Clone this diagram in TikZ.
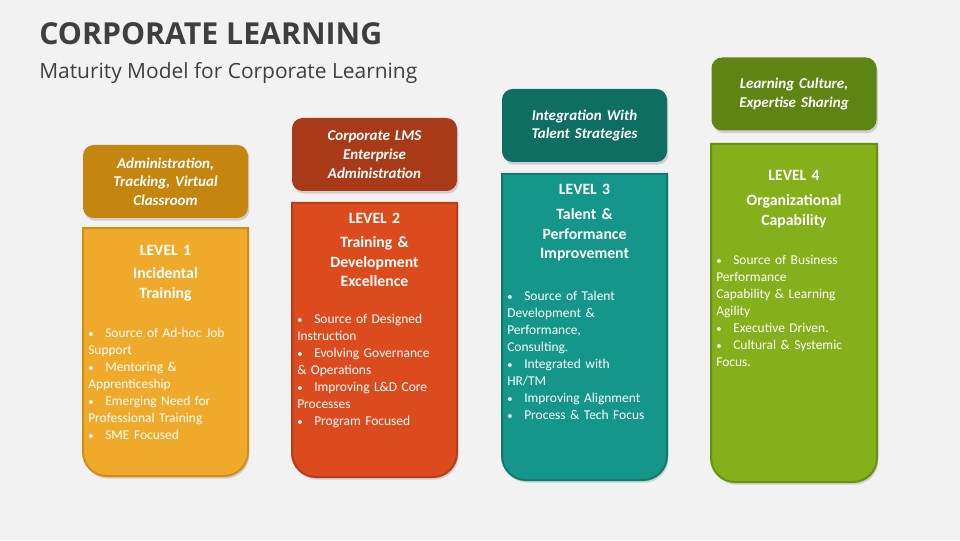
\documentclass[tikz,border=0pt]{standalone}
\usepackage{fontspec}
\setmainfont{Carlito}
\newfontfamily\titlefont{Open Sans}
\usetikzlibrary{shadows}
\definecolor{bg}{HTML}{F2F2F2}
\definecolor{hA}{HTML}{C4860F}\definecolor{bA}{HTML}{F0AA2B}\definecolor{dA}{HTML}{D08E14}
\definecolor{hB}{HTML}{A93A18}\definecolor{bB}{HTML}{DC4B1E}\definecolor{dB}{HTML}{B93C16}
\definecolor{hC}{HTML}{0F6E62}\definecolor{bC}{HTML}{15968A}\definecolor{dC}{HTML}{0F7A6F}
\definecolor{hD}{HTML}{5E8513}\definecolor{bD}{HTML}{84B01B}\definecolor{dD}{HTML}{6A9012}
\definecolor{ttl}{HTML}{3F3F3F}
\newcommand{\bl}[1]{\par\hangindent=12.75pt\hangafter=1\noindent\makebox[12.75pt][l]{\footnotesize\textbullet}#1}
\tikzset{
  shd/.style={drop shadow={opacity=0.3,shadow xshift=1pt,shadow yshift=-2pt}},
  headbox/.style={shd,rounded corners=8pt,minimum width=123.75pt,minimum height=54.75pt,inner sep=0pt,
     text=white,font=\fontsize{11.25}{14}\selectfont\bfseries\itshape,align=center,text width=115pt},
  lvl/.style={text=white,font=\fontsize{11.8}{14.8}\selectfont\bfseries,align=center,text width=115pt,inner sep=0pt,anchor=north},
  bul/.style={text=white,font=\fontsize{10.1}{12.75}\selectfont,align=left,text width=125pt,inner sep=0pt,anchor=north west},
}
\newcommand{\bodyshape}[5]{% x1 x2 ytop ybot color/border
  \fill[shd,#5] (#1,#3) -- (#1,#4+24) arc[start angle=180,end angle=270,radius=18pt] -- (#2-24,#4)
    arc[start angle=270,end angle=360,radius=18pt] -- (#2,#3) -- cycle;
  \draw[line width=1.5pt,#5] (#1,#3) -- (#1,#4+24) arc[start angle=180,end angle=270,radius=18pt] -- (#2-24,#4)
    arc[start angle=270,end angle=360,radius=18pt] -- (#2,#3) -- cycle;}
\begin{document}
\begin{tikzpicture}[x=0.75pt,y=0.75pt]
\fill[bg] (0,0) rectangle (960,540);
\useasboundingbox (0,0) rectangle (960,540);
\node[anchor=west,inner sep=0pt,text=ttl,font=\titlefont\fontsize{22.7}{27}\selectfont\bfseries] (title) at (39,506) {CORPORATE LEARNING};
\node[anchor=west,inner sep=0pt,text=ttl,font=\titlefont\fontsize{15.7}{19}\selectfont] (sub) at (39,467) {Maturity Model for Corporate Learning};
% column 1
\node[headbox,fill=hA] (h1) at (165.5,358.5) {Administration,\\Tracking, Virtual\\Classroom};
\bodyshape{83}{248}{312}{64}{fill=bA,draw=dA}
\node[lvl] (l1) at (165.5,295) {LEVEL 1};
\node[lvl] (t1) at (165.5,273) {Incidental\\Training};
\node[bul] (u1) at (88,220) {\bl{Source of Ad-hoc Job\\Support}\bl{Mentoring \&\\Apprenticeship}\bl{Emerging Need for\\Professional Training}\bl{SME Focused}};
% column 2
\node[headbox,fill=hB] (h2) at (374.5,385.5) {Corporate LMS\\Enterprise\\Administration};
\bodyshape{292}{457}{337}{63}{fill=bB,draw=dB}
\node[lvl] (l2) at (374.5,327) {LEVEL 2};
\node[lvl] (t2) at (374.5,304) {Training \&\\Development\\Excellence};
\node[bul] (u2) at (297,234) {\bl{Source of Designed\\Instruction}\bl{Evolving Governance\\\& Operations}\bl{Improving L\&D Core\\Processes}\bl{Program Focused}};
% column 3
\node[headbox,fill=hC] (h3) at (584.5,414.5) {Integration With\\Talent Strategies};
\bodyshape{502}{667}{366}{60}{fill=bC,draw=dC}
\node[lvl] (l3) at (584.5,356) {LEVEL 3};
\node[lvl] (t3) at (584.5,332) {Talent \&\\Performance\\Improvement};
\node[bul] (u3) at (507,257) {\bl{Source of Talent\\Development \&\\Performance,\\Consulting.}\bl{Integrated with\\HR/TM}\bl{Improving Alignment}\bl{Process \& Tech Focus}};
% column 4
\node[headbox,fill=hD] (h4) at (794,446) {Learning Culture,\\Expertise Sharing};
\bodyshape{711}{877}{396}{58}{fill=bD,draw=dD}
\node[lvl] (l4) at (794,370) {LEVEL 4};
\node[lvl] (t4) at (794,346) {Organizational\\Capability};
\node[bul] (u4) at (716,293) {\bl{Source of Business\\Performance\\Capability \& Learning\\Agility}\bl{Executive Driven.}\bl{Cultural \& Systemic\\Focus.}};
\end{tikzpicture}
\end{document}
